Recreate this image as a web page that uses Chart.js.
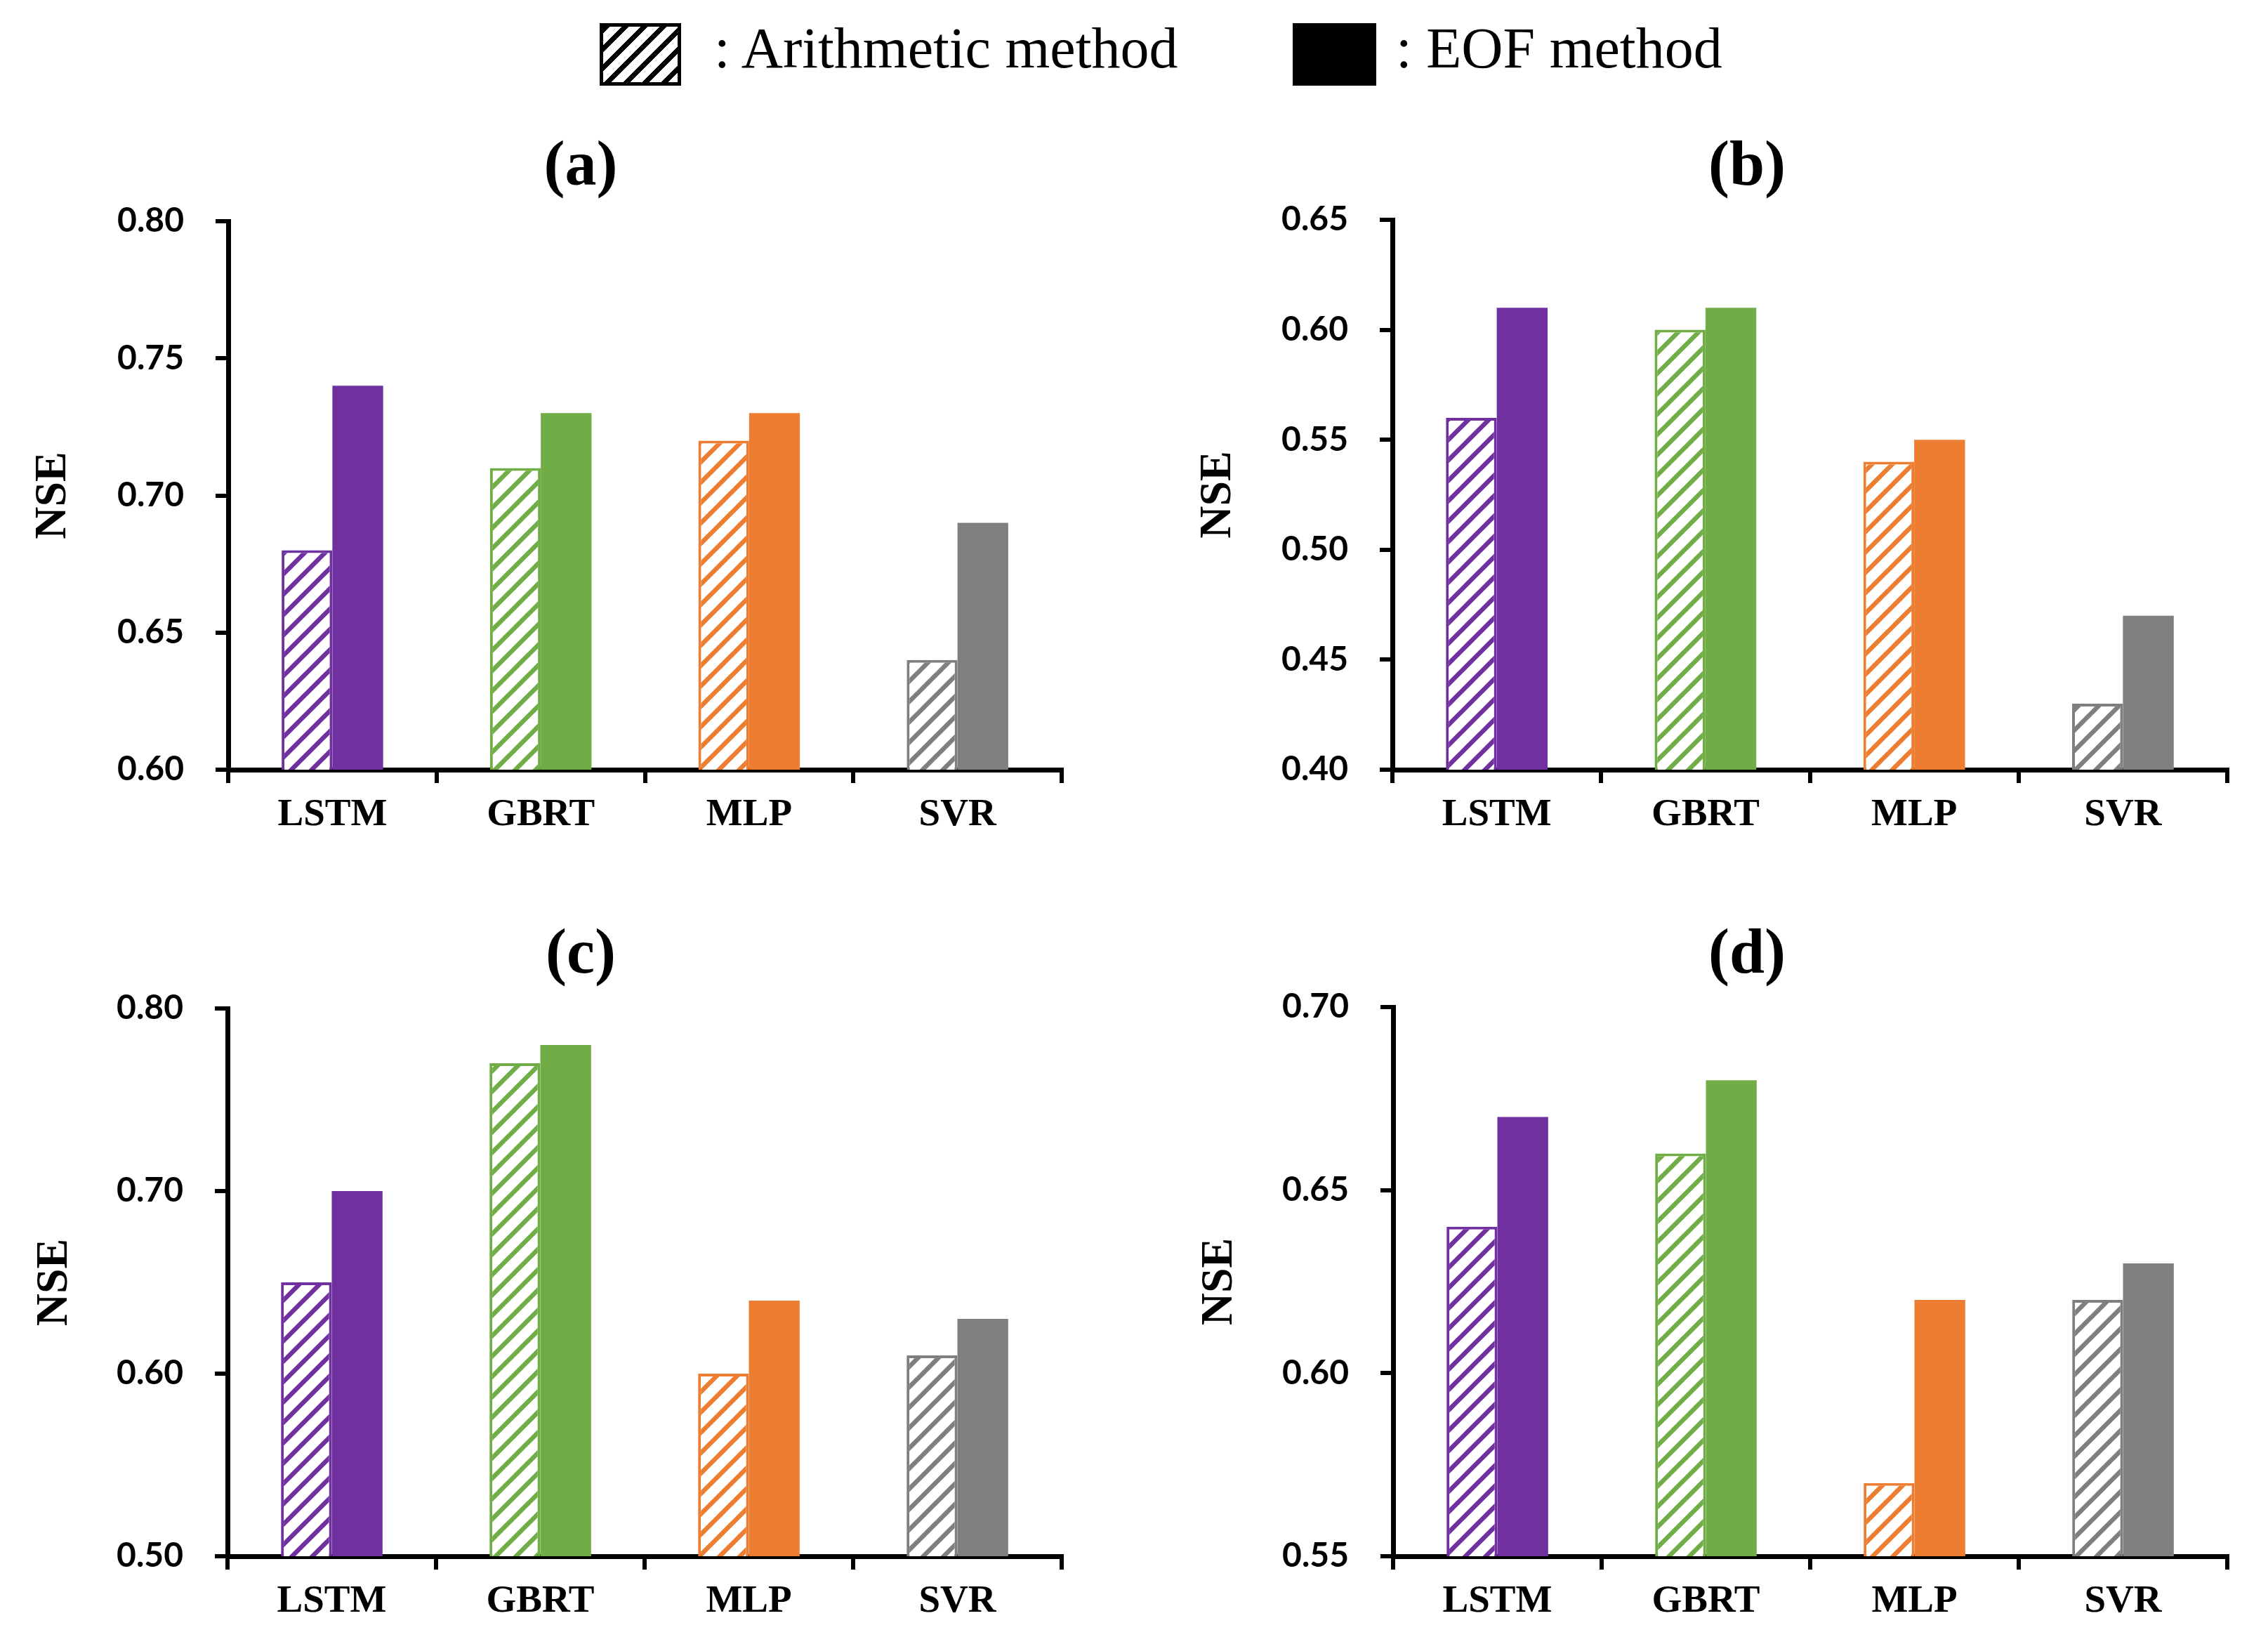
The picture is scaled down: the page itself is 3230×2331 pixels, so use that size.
<!DOCTYPE html>
<html><head><meta charset="utf-8">
<script src="https://cdn.jsdelivr.net/npm/chart.js@4.4.0/dist/chart.umd.min.js"></script>
<style>
html,body{margin:0;padding:0;background:#fff;}
body{width:3230px;height:2331px;position:relative;overflow:hidden;}
canvas{position:absolute;}
.t{position:absolute;font-family:'Liberation Serif','Times New Roman',serif;line-height:1;white-space:nowrap;color:#000;}
.ttl{font-size:90px;font-weight:bold;transform:translateX(-50%);}
.lg{font-size:82px;}
.box{position:absolute;box-sizing:border-box;}
</style></head><body>
<div class="box" style="left:854px;top:33px;width:116px;height:89px;border:5px solid #000;background:repeating-linear-gradient(135deg,#000 0 7px,#fff 7px 19px);"></div>
<div class="t lg" style="left:1017px;top:28px;">: Arithmetic method</div>
<div class="box" style="left:1841px;top:33px;width:119px;height:89px;background:#000;"></div>
<div class="t lg" style="left:1988px;top:28px;">: EOF method</div>

<div class="t ttl" style="left:827px;top:188px;">(a)</div>
<div class="t ttl" style="left:2488px;top:188px;">(b)</div>
<div class="t ttl" style="left:827px;top:1310px;">(c)</div>
<div class="t ttl" style="left:2488px;top:1310px;">(d)</div>

<canvas id="ca"></canvas>
<canvas id="cb"></canvas>
<canvas id="cc"></canvas>
<canvas id="cd"></canvas>
<script>
// ---- data ----
const categories = ['LSTM', 'GBRT', 'MLP', 'SVR'];
const seriesNames = ['Arithmetic method', 'EOF method'];
const colors = ['#7030A0', '#70AD47', '#ED7D31', '#7F7F7F'];

const arithA = [0.68, 0.71, 0.72, 0.64];
const eofA   = [0.74, 0.73, 0.73, 0.69];
const arithB = [0.56, 0.60, 0.54, 0.43];
const eofB   = [0.61, 0.61, 0.55, 0.47];
const arithC = [0.65, 0.77, 0.60, 0.61];
const eofC   = [0.70, 0.78, 0.64, 0.63];
const arithD = [0.64, 0.66, 0.57, 0.62];
const eofD   = [0.67, 0.68, 0.62, 0.63];

const yRangeA = [0.60, 0.80, 0.05];
const yRangeB = [0.40, 0.65, 0.05];
const yRangeC = [0.50, 0.80, 0.10];
const yRangeD = [0.55, 0.70, 0.05];

// ---- hatch pattern ----
function hatch(color) {
  const p = 29;
  const c = document.createElement('canvas');
  c.width = p; c.height = p;
  const g = c.getContext('2d');
  g.fillStyle = '#fff';
  g.fillRect(0, 0, p, p);
  g.strokeStyle = color;
  g.lineWidth = 6.5;
  for (const k of [-p, 0, p]) {
    g.beginPath();
    g.moveTo(k - 2, p + 2);
    g.lineTo(k + p + 2, -2);
    g.stroke();
  }
  return g.createPattern(c, 'repeat');
}
const patterns = colors.map(hatch);

const serif = "'Liberation Serif', 'Times New Roman', serif";

function makePanel(id, geo, range, arith, eof) {
  const XH = 130, PT = 80;
  const cv = document.getElementById(id);
  const cw = geo.cw;
  const ch = (geo.B - geo.T) + PT + XH;
  cv.width = cw; cv.height = ch;
  cv.style.left = geo.cl + 'px';
  cv.style.top = (geo.T - PT) + 'px';
  cv.style.width = cw + 'px';
  cv.style.height = ch + 'px';
  const padLeft = geo.nseX - 32 - geo.cl;
  const padRight = geo.cl + cw - geo.R;
  const yW = geo.L - geo.cl - padLeft;
  new Chart(cv, {
    type: 'bar',
    data: {
      labels: categories,
      datasets: [
        { label: seriesNames[0], data: arith, backgroundColor: patterns, borderColor: colors, borderWidth: 4 },
        { label: seriesNames[1], data: eof, backgroundColor: colors, borderWidth: 0 }
      ]
    },
    options: {
      responsive: false,
      devicePixelRatio: 1,
      animation: false,
      layout: { padding: { top: PT, bottom: 0, left: padLeft, right: padRight } },
      datasets: { bar: { categoryPercentage: 0.487, barPercentage: 1.0 } },
      plugins: { legend: { display: false }, tooltip: { enabled: false }, title: { display: false } },
      scales: {
        x: {
          grid: { offset: true, drawOnChartArea: false, drawTicks: true, tickLength: 19, color: '#000', lineWidth: 6 },
          border: { display: true, color: '#000', width: 7 },
          ticks: { color: '#000', padding: 13, font: { family: serif, weight: 'bold', size: 55 } },
          afterFit: s => { s.height = XH; }
        },
        y: {
          min: range[0], max: range[1],
          grid: { drawOnChartArea: false, drawTicks: true, tickLength: 18, color: '#000', lineWidth: 6 },
          border: { display: true, color: '#000', width: 7 },
          ticks: { stepSize: range[2], color: '#000', padding: 45,
                   font: { family: 'Lato', weight: 'bold', size: 48 },
                   callback: v => Number(v).toFixed(2) },
          title: { display: true, text: 'NSE', color: '#000', padding: { top: 0, bottom: 0 },
                   font: { family: serif, weight: 'bold', size: 64, lineHeight: 1 } },
          afterFit: s => { s.width = yW; }
        }
      }
    }
  });
}

makePanel('ca', { L: 325, R: 1512, T: 315, B: 1096, nseX: 76, cl: 0, cw: 1615 }, yRangeA, arithA, eofA);
makePanel('cb', { L: 1983, R: 3172, T: 313, B: 1096, nseX: 1735, cl: 1615, cw: 1615 }, yRangeB, arithB, eofB);
makePanel('cc', { L: 324, R: 1512, T: 1436, B: 2216, nseX: 78, cl: 0, cw: 1615 }, yRangeC, arithC, eofC);
makePanel('cd', { L: 1984, R: 3172, T: 1434, B: 2216, nseX: 1737, cl: 1615, cw: 1615 }, yRangeD, arithD, eofD);
</script>
</body></html>
